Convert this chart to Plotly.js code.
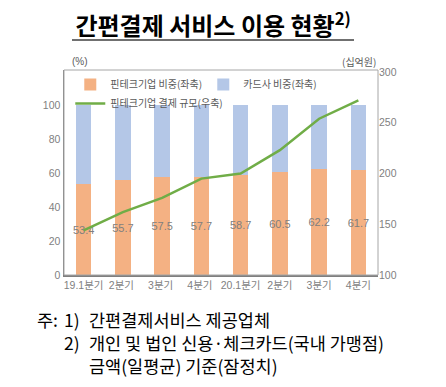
<!DOCTYPE html>
<html><head><meta charset="utf-8">
<script src="https://cdn.plot.ly/plotly-3.0.1.min.js"></script>
<style>html,body{margin:0;padding:0;background:#fff}#chart{width:446px;height:387px}</style>
</head><body><div id="chart"></div>
<script>
const categories = ["19.1분기","2분기 ","3분기 ","4분기 ","20.1분기","2분기","3분기","4분기"];
const fintechShare = [53.4, 55.7, 57.5, 57.7, 58.7, 60.5, 62.2, 61.7];
const cardShare = fintechShare.map(v => +(100 - v).toFixed(1));
const fintechAmount = [144, 162, 176, 195, 200, 223, 254, 272];
const leftTicks = [0, 20, 40, 60, 80, 100];
const rightTicks = [100, 150, 200, 250, 300];

const KR = '"Liberation Sans", "Noto Sans CJK KR", sans-serif';
const CJK = '"Noto Sans CJK KR", sans-serif';
const traces = [
  {type:'bar', name:'핀테크기업 비중(좌축)', x:categories, y:fintechShare,
   marker:{color:'#F4B183'}, text:fintechShare.map(v=>v.toFixed(1)),
   textposition:'inside', insidetextanchor:'middle', textangle:0, constraintext:'none',
   textfont:{color:'#7F7F7F', size:11, family:KR}, hoverinfo:'none'},
  {type:'bar', name:'카드사 비중(좌축)', x:categories, y:cardShare,
   marker:{color:'#B4C7E7'}, textposition:'none', hoverinfo:'none'},
  {type:'scatter', mode:'lines', name:'핀테크기업 결제 규모(우축)', x:categories, y:fintechAmount,
   yaxis:'y2', line:{color:'#70AD47', width:2.5}}
];

const H = 205, W = 314, L = 64, B = 275;
const px = x => (x - L) / W, py = y => (B - y) / H;

const layout = {
  width:446, height:387,
  margin:{l:64, r:68, t:70, b:112},
  paper_bgcolor:'#fff', plot_bgcolor:'#fff',
  barmode:'stack', bargap:0.6,
  showlegend:true,
  font:{family:KR, color:'#595959'},
  title:{text:'<b>간편결제 서비스 이용 현황</b><sup><b>2)</b></sup>', x:0.478, xanchor:'center', y:0.932, yanchor:'middle',
         font:{size:24, color:'#000', family:CJK}},
  legend:{orientation:'h', traceorder:'normal', x:0.02, y:1.0, xanchor:'left', yanchor:'top',
          entrywidth:88, entrywidthmode:'pixels', tracegroupgap:0,
          bgcolor:'rgba(0,0,0,0)', font:{size:10, color:'#595959', family:CJK}},
  xaxis:{type:'category', range:[-0.5,7.5], showline:true, linecolor:'#7F7F7F', linewidth:1.5, mirror:false,
         ticks:'', tickfont:{size:10.5, color:'#7F7F7F'}, fixedrange:true},
  yaxis:{range:[0,120.6], tickvals:leftTicks, showgrid:false, zeroline:false, showline:true,
         linecolor:'#7F7F7F', linewidth:1.5, ticks:'', tickfont:{size:10.5, color:'#7F7F7F'}},
  yaxis2:{range:[100,302], overlaying:'y', side:'right', tickvals:rightTicks, showgrid:false, zeroline:false,
          showline:false, ticks:'', ticklen:0, tickfont:{size:10.5, color:'#7F7F7F'}},
  shapes:[
    {type:'rect', xref:'paper', yref:'paper', x0:0, x1:1, y0:0, y1:1, line:{color:'#A6A6A6', width:1}},
    {type:'rect', layer:'above', xref:'paper', yref:'paper', x0:px(72), x1:px(354), y0:py(39.2), y1:py(40.8),
     fillcolor:'#404040', line:{width:0}}
  ],
  annotations:[
    {text:'(%)', xref:'paper', yref:'paper', x:px(70), y:py(62), xanchor:'left', yanchor:'middle', showarrow:false, font:{size:10, color:'#595959'}},
    {text:'(십억원)', xref:'paper', yref:'paper', x:px(378), y:py(62), xanchor:'right', yanchor:'middle', showarrow:false, font:{size:10, color:'#595959', family:CJK}},
    {text:'주:', xref:'paper', yref:'paper', x:px(35), y:py(305), xanchor:'left', yanchor:'top', showarrow:false, font:{size:17.5, color:'#000', family:CJK}},
    {text:'1)<br>2)', xref:'paper', yref:'paper', x:px(62), y:py(305), xanchor:'left', yanchor:'top', align:'left', showarrow:false, font:{size:17.5, color:'#000', family:CJK}},
    {text:'간편결제서비스 제공업체<br>개인 및 법인 신용·체크카드(국내 가맹점)<br>금액(일평균) 기준(잠정치)', xref:'paper', yref:'paper', x:px(87), y:py(305), xanchor:'left', yanchor:'top', align:'left', showarrow:false, font:{size:17.5, color:'#000', family:CJK}}
  ]
};
Plotly.newPlot('chart', traces, layout, {displayModeBar:false, staticPlot:true});
</script></body></html>
